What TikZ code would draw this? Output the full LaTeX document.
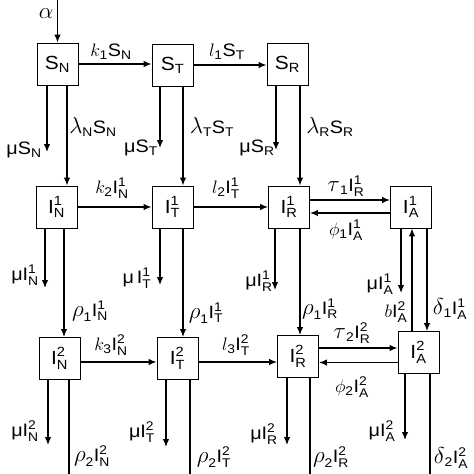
\RequirePackage{fix-cm}
\documentclass[tikz,border=0pt]{standalone}
\usepackage{amsmath}
\usepackage{fontspec}
\setmainfont{Liberation Sans}[FakeStretch=1.1]
\usetikzlibrary{arrows.meta}

\newcommand\Sv[1]{\ensuremath{\text{S}_{\text{#1}}}}
\newcommand\Iv[2]{\ensuremath{\text{I}^{\text{#1}}_{\text{#2}}}}
\newcommand\Mu{\text{μ}}
\newcommand\gr[1]{\text{\fontsize{23}{25}\selectfont$#1$}}

\tikzset{
  comp/.style={
    draw,
    line width=0.9pt,
    minimum width=41pt,
    minimum height=42pt,
    inner sep=0pt,
    font=\fontsize{19}{22}\selectfont,
  },
  flow/.style={line width=1.3pt, -{Latex[length=8pt,width=6.5pt]}},
  drop/.style={line width=1.3pt},
  rate/.style={inner sep=0pt, font=\fontsize{18}{21}\selectfont},
}

\begin{document}
\begin{tikzpicture}[x=1pt, y=-1pt]
  \useasboundingbox (0,0) rectangle (474,474);

  % Compartments
  \node[comp] (SN) at (57.5,64) {\Sv{N}};
  \node[comp] (ST) at (172.5,65) {\Sv{T}};
  \node[comp] (SR) at (287.5,64.5) {\Sv{R}};
  \node[comp] (IN1) at (56.5,207) {\Iv{1}{N}};
  \node[comp] (IT1) at (172.5,207) {\Iv{1}{T}};
  \node[comp] (IR1) at (289,207) {\Iv{1}{R}};
  \node[comp] (IA1) at (411,207) {\Iv{1}{A}};
  \node[comp] (IN2) at (59.5,358.5) {\Iv{2}{N}};
  \node[comp] (IT2) at (177.5,358.5) {\Iv{2}{T}};
  \node[comp] (IR2) at (298,356.5) {\Iv{2}{R}};
  \node[comp] (IA2) at (418.5,352.5) {\Iv{2}{A}};

  % Free ends
  \coordinate (src) at (57.5,0);
  \coordinate (floor) at (0,474);
  \coordinate (eSN) at (47,152);
  \coordinate (eST) at (160,148);
  \coordinate (eSR) at (276,150);
  \coordinate (eIN1) at (45,288);
  \coordinate (eIT1) at (160,285);
  \coordinate (eIR1) at (275,290);
  \coordinate (eIA1) at (401,293);
  \coordinate (eIN2) at (48,445);
  \coordinate (eIT2) at (166,447);
  \coordinate (eIR2) at (287,445);
  \coordinate (eIA2) at (405,440);

  % Flows along the rows
  \draw[flow] (SN.east) -- (SN.east -| ST.west);
  \draw[flow] (ST.east) -- (ST.east -| SR.west);
  \draw[flow] (IN1.east) -- (IN1.east -| IT1.west);
  \draw[flow] (IT1.east) -- (IT1.east -| IR1.west);
  \draw[flow] ([yshift=7pt]IR1.east) -- ([yshift=7pt]IR1.east -| IA1.west);
  \draw[flow] ([yshift=-6pt]IR1.east -| IA1.west) -- ([yshift=-6pt]IR1.east);
  \draw[flow] ([yshift=-3.5pt]IN2.east) -- ([yshift=-3.5pt]IN2.east -| IT2.west);
  \draw[flow] ([yshift=-3.5pt]IT2.east) -- ([yshift=-3.5pt]IT2.east -| IR2.west);
  \draw[flow] ([yshift=8.5pt]IR2.east) -- ([yshift=8.5pt]IR2.east -| IA2.west);
  \draw[flow] ([yshift=-6pt]IR2.east -| IA2.west) -- ([yshift=-6pt]IR2.east);

  % Flows down the columns
  \draw[flow] (src) -- (SN.north);
  \draw[flow] (SN.south -| eSN) -- (eSN);
  \draw[flow] (ST.south -| eST) -- (eST);
  \draw[flow] (SR.south -| eSR) -- (eSR);
  \draw[flow] ([xshift=9.5pt]SN.south) -- ([xshift=9.5pt]SN.south |- IN1.north);
  \draw[flow] ([xshift=10.5pt]ST.south) -- ([xshift=10.5pt]ST.south |- IT1.north);
  \draw[flow] ([xshift=12.5pt]SR.south) -- ([xshift=12.5pt]SR.south |- IR1.north);

  \draw[flow] (IN1.south -| eIN1) -- (eIN1);
  \draw[flow] (IT1.south -| eIT1) -- (eIT1);
  \draw[flow] (IR1.south -| eIR1) -- (eIR1);
  \draw[flow] (IA1.south -| eIA1) -- (eIA1);
  \draw[flow] ([xshift=7.5pt]IN1.south) -- ([xshift=7.5pt]IN1.south |- IN2.north);
  \draw[flow] ([xshift=10.5pt]IT1.south) -- ([xshift=10.5pt]IT1.south |- IT2.north);
  \draw[flow] ([xshift=11pt]IR1.south) -- ([xshift=11pt]IR1.south |- IR2.north);
  \draw[flow] ([xshift=16pt]IA1.south) -- ([xshift=16pt]IA1.south |- IA2.north);
  \draw[flow] ([xshift=-6.5pt]IA2.north) -- ([xshift=-6.5pt]IA2.north |- IA1.south);

  \draw[flow] (IN2.south -| eIN2) -- (eIN2);
  \draw[flow] (IT2.south -| eIT2) -- (eIT2);
  \draw[flow] (IR2.south -| eIR2) -- (eIR2);
  \draw[flow] (IA2.south -| eIA2) -- (eIA2);
  \draw[drop] ([xshift=9.5pt]IN2.south) -- ([xshift=9.5pt]IN2.south |- floor);
  \draw[drop] ([xshift=12.5pt]IT2.south) -- ([xshift=12.5pt]IT2.south |- floor);
  \draw[drop] ([xshift=12pt]IR2.south) -- ([xshift=12pt]IR2.south |- floor);
  \draw[drop] ([xshift=11.5pt]IA2.south) -- ([xshift=11.5pt]IA2.south |- floor);

  % Rates
  \node[rate] (alpha) at (46,14) {$\gr{\alpha}$};
  \node[rate] (kSN) at (111,52) {$k_{\text{1}}\Sv{N}$};
  \node[rate] (lST) at (227,52) {$l_{\text{1}}\Sv{T}$};
  \node[rate] (muSN) at (24,150) {$\Mu\Sv{N}$};
  \node[rate] (muST) at (141,148) {$\Mu\Sv{T}$};
  \node[rate] (muSR) at (257,148) {$\Mu\Sv{R}$};
  \node[rate] (lamN) at (93,127) {$\gr{\lambda}_{\text{N}}\Sv{N}$};
  \node[rate] (lamT) at (212,127) {$\gr{\lambda}_{\text{T}}\Sv{T}$};
  \node[rate] (lamR) at (330,127) {$\gr{\lambda}_{\text{R}}\Sv{R}$};

  \node[rate] (kIN1) at (112,188) {$k_{\text{2}}\Iv{1}{N}$};
  \node[rate] (lIT1) at (226,188) {$l_{\text{2}}\Iv{1}{T}$};
  \node[rate] (tauIR1) at (346,186) {$\gr{\tau}_{\text{1}}\Iv{1}{R}$};
  \node[rate] (phiIA1) at (346,230) {$\phi_{\text{1}}\Iv{1}{A}$};
  \node[rate] (muIN1) at (25,275) {$\Mu\Iv{1}{N}$};
  \node[rate] (muIT1) at (137,278) {$\Mu\,\Iv{1}{T}$};
  \node[rate] (muIR1) at (259,281) {$\Mu\Iv{1}{R}$};
  \node[rate] (muIA1) at (380,284) {$\Mu\Iv{1}{A}$};
  \node[rate] (rhoIN1) at (90,311) {$\gr{\rho}_{\text{1}}\Iv{1}{N}$};
  \node[rate] (rhoIT1) at (206,313) {$\gr{\rho}_{\text{1}}\Iv{1}{T}$};
  \node[rate] (rhoIR1) at (320,309) {$\gr{\rho}_{\text{1}}\Iv{1}{R}$};
  \node[rate] (bIA2) at (396,312) {$b\Iv{2}{A}$};
  \node[rate] (delIA1) at (450,309) {$\gr{\delta}_{\text{1}}\Iv{1}{A}$};

  \node[rate] (kIN2) at (111,345) {$k_{\text{3}}\Iv{2}{N}$};
  \node[rate] (lIT2) at (236,345) {$l_{\text{3}}\Iv{2}{T}$};
  \node[rate] (tauIR2) at (352,333) {$\gr{\tau}_{\text{2}}\Iv{2}{R}$};
  \node[rate] (phiIA2) at (352,387) {$\phi_{\text{2}}\Iv{2}{A}$};
  \node[rate] (muIN2) at (25,431) {$\Mu\Iv{2}{N}$};
  \node[rate] (muIT2) at (142,432) {$\Mu\Iv{2}{T}$};
  \node[rate] (muIR2) at (264,434) {$\Mu\Iv{2}{R}$};
  \node[rate] (muIA2) at (382,431) {$\Mu\Iv{2}{A}$};
  \node[rate] (rhoIN2) at (92,456) {$\gr{\rho}_{\text{2}}\Iv{2}{N}$};
  \node[rate] (rhoIT2) at (214,457) {$\gr{\rho}_{\text{2}}\Iv{2}{T}$};
  \node[rate] (rhoIR2) at (331,457) {$\gr{\rho}_{\text{2}}\Iv{2}{R}$};
  \node[rate] (delIA2) at (451,458) {$\gr{\delta}_{\text{2}}\Iv{2}{A}$};
\end{tikzpicture}
\end{document}
